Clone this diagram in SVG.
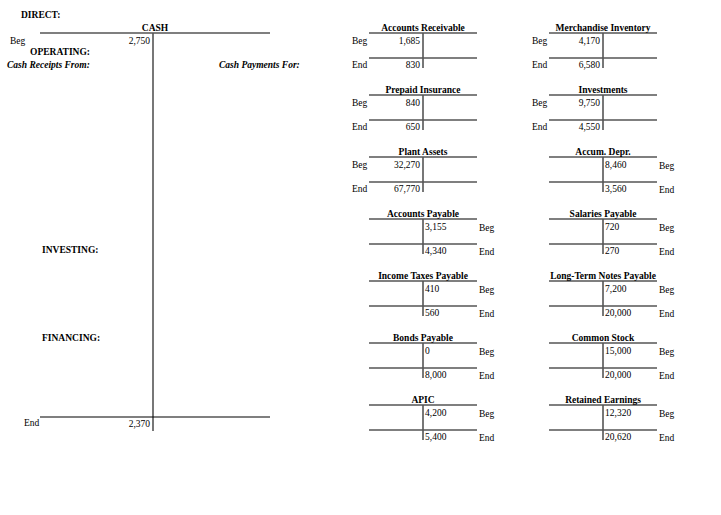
<svg xmlns="http://www.w3.org/2000/svg" width="721" height="515" viewBox="0 0 721 515">
<style>
text{font-family:"Liberation Serif",serif;font-size:9.5px;fill:#000}
.b{font-weight:bold}
.bi{font-weight:bold;font-style:italic}
.t{font-weight:bold;text-anchor:middle}
.r{text-anchor:end}
line{stroke:#000;stroke-width:1.2}
.v{stroke:#555;stroke-width:1.6}
</style>
<rect width="721" height="515" fill="#fff"/>
<defs>
<g id="tacc">
<line x1="0" y1="0" x2="108" y2="0"/>
<line x1="0" y1="25" x2="108" y2="25"/>
<line class="v" x1="54" y1="0" x2="54" y2="35"/>
</g>
</defs>
<g id="cash">
<text x="21" y="18" class="b">DIRECT:</text>
<text x="155" y="31" class="t">CASH</text>
<line x1="40" y1="33" x2="270" y2="33"/>
<line class="v" x1="153" y1="33" x2="153" y2="431"/>
<line x1="40" y1="417" x2="270" y2="417"/>
<text x="10" y="44">Beg</text>
<text x="150" y="44" class="r">2,750</text>
<text x="30" y="55" class="b">OPERATING:</text>
<text x="7" y="68" class="bi">Cash Receipts From:</text>
<text x="219" y="68" class="bi">Cash Payments For:</text>
<text x="42" y="253" class="b">INVESTING:</text>
<text x="42" y="341" class="b">FINANCING:</text>
<text x="24" y="426">End</text>
<text x="150" y="427" class="r">2,370</text>
</g>
<g id="ar"><use href="#tacc" x="369" y="33"/><text x="423" y="31" class="t">Accounts Receivable</text><text x="352" y="44">Beg</text><text x="420" y="44" class="r">1,685</text><text x="352" y="68">End</text><text x="420" y="68" class="r">830</text></g>
<g id="mi"><use href="#tacc" x="549" y="33"/><text x="603" y="31" class="t">Merchandise Inventory</text><text x="532" y="44">Beg</text><text x="600" y="44" class="r">4,170</text><text x="532" y="68">End</text><text x="600" y="68" class="r">6,580</text></g>
<g id="pi"><use href="#tacc" x="369" y="95"/><text x="423" y="93" class="t">Prepaid Insurance</text><text x="352" y="106">Beg</text><text x="420" y="106" class="r">840</text><text x="352" y="130">End</text><text x="420" y="130" class="r">650</text></g>
<g id="inv"><use href="#tacc" x="549" y="95"/><text x="603" y="93" class="t">Investments</text><text x="532" y="106">Beg</text><text x="600" y="106" class="r">9,750</text><text x="532" y="130">End</text><text x="600" y="130" class="r">4,550</text></g>
<g id="pa"><use href="#tacc" x="369" y="157"/><text x="423" y="155" class="t">Plant Assets</text><text x="352" y="168">Beg</text><text x="420" y="168" class="r">32,270</text><text x="352" y="192">End</text><text x="420" y="192" class="r">67,770</text></g>
<g id="ad"><use href="#tacc" x="549" y="157"/><text x="603" y="155" class="t">Accum. Depr.</text><text x="605" y="168">8,460</text><text x="659" y="169">Beg</text><text x="605" y="192">3,560</text><text x="659" y="193">End</text></g>
<g id="ap"><use href="#tacc" x="369" y="219"/><text x="423" y="217" class="t">Accounts Payable</text><text x="425" y="230">3,155</text><text x="479" y="231">Beg</text><text x="425" y="254">4,340</text><text x="479" y="255">End</text></g>
<g id="sp"><use href="#tacc" x="549" y="219"/><text x="603" y="217" class="t">Salaries Payable</text><text x="605" y="230">720</text><text x="659" y="231">Beg</text><text x="605" y="254">270</text><text x="659" y="255">End</text></g>
<g id="itp"><use href="#tacc" x="369" y="281"/><text x="423" y="279" class="t">Income Taxes Payable</text><text x="425" y="292">410</text><text x="479" y="293">Beg</text><text x="425" y="316">560</text><text x="479" y="317">End</text></g>
<g id="ltn"><use href="#tacc" x="549" y="281"/><text x="603" y="279" class="t">Long-Term Notes Payable</text><text x="605" y="292">7,200</text><text x="659" y="293">Beg</text><text x="605" y="316">20,000</text><text x="659" y="317">End</text></g>
<g id="bp"><use href="#tacc" x="369" y="343"/><text x="423" y="341" class="t">Bonds Payable</text><text x="425" y="354">0</text><text x="479" y="355">Beg</text><text x="425" y="378">8,000</text><text x="479" y="379">End</text></g>
<g id="cs"><use href="#tacc" x="549" y="343"/><text x="603" y="341" class="t">Common Stock</text><text x="605" y="354">15,000</text><text x="659" y="355">Beg</text><text x="605" y="378">20,000</text><text x="659" y="379">End</text></g>
<g id="apic"><use href="#tacc" x="369" y="405"/><text x="423" y="403" class="t">APIC</text><text x="425" y="416">4,200</text><text x="479" y="417">Beg</text><text x="425" y="440">5,400</text><text x="479" y="441">End</text></g>
<g id="re"><use href="#tacc" x="549" y="405"/><text x="603" y="403" class="t">Retained Earnings</text><text x="605" y="416">12,320</text><text x="659" y="417">Beg</text><text x="605" y="440">20,620</text><text x="659" y="441">End</text></g>
<g id="connectors"/>
</svg>
